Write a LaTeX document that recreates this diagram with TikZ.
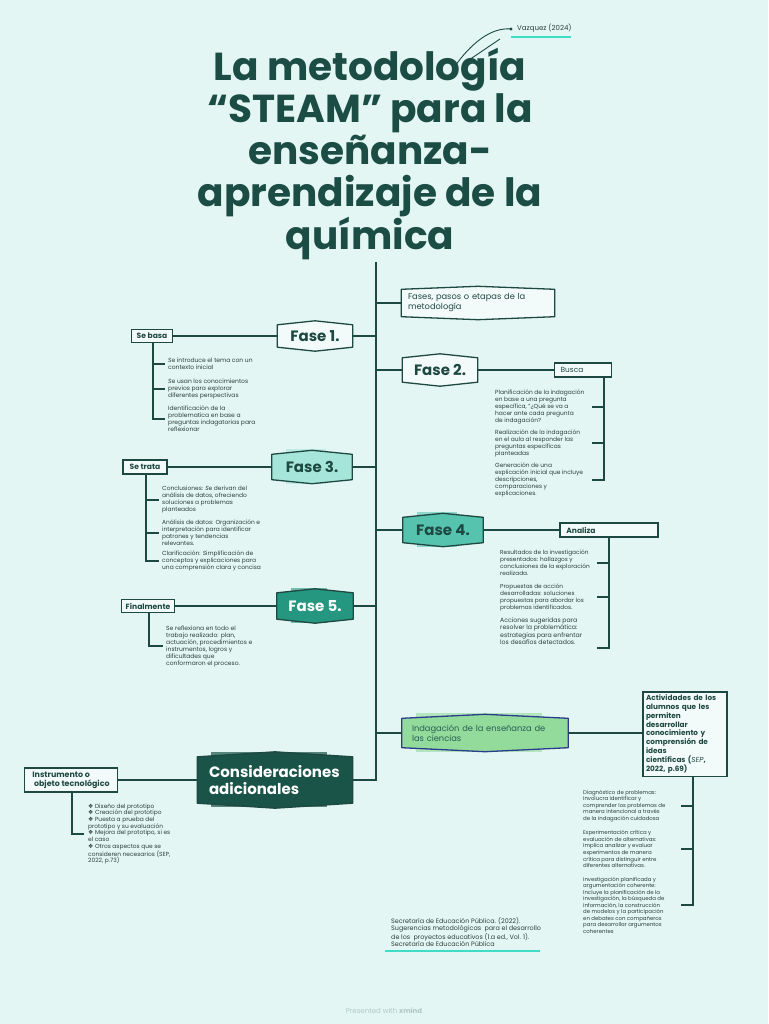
\documentclass[tikz,border=0pt]{standalone}
\usepackage{fontspec}
\setmainfont{Poppins}
\newfontfamily\djv{DejaVu Sans}
\usetikzlibrary{calc}
\definecolor{bgc}{HTML}{E3F6F3}
\definecolor{lnc}{HTML}{1E4842}
\definecolor{titc}{HTML}{1C4D45}
\definecolor{txc}{HTML}{2E3C3A}
\definecolor{boxc}{HTML}{F3FBFA}
\definecolor{f3c}{HTML}{A6E6DA}
\definecolor{f4c}{HTML}{55C3AE}
\definecolor{f5c}{HTML}{25967F}
\definecolor{consc}{HTML}{1A5448}
\definecolor{cyanc}{HTML}{3FDCC6}
\definecolor{indc}{HTML}{93DB9B}
\definecolor{indb}{HTML}{2A3C8C}
\definecolor{indt}{HTML}{2B5E55}
\definecolor{grayc}{HTML}{B3C8C5}
\pgfdeclarelayer{bgl}\pgfdeclarelayer{mid}\pgfsetlayers{bgl,mid,main}
\newcommand\hexfr[3][]{\begin{pgfonlayer}{mid}\draw[lnc,line width=1.3pt,line join=round,#1] (#2.north west) -- ([yshift=#3]#2.north) -- (#2.north east) -- (#2.south east) -- ([yshift=-#3]#2.south) -- (#2.south west) -- cycle;\end{pgfonlayer}}
\newcommand\tape[2]{\begin{pgfonlayer}{mid}\fill[#1] ([xshift=14pt,yshift=5pt]#2.north west) rectangle ([xshift=-26pt,yshift=-4pt]#2.south east);\end{pgfonlayer}}
\tikzset{
  ln/.style={draw=lnc, line width=1.4pt},
  sbox/.style={draw=lnc, line width=1.2pt, fill=boxc, inner sep=2pt, font=\fontsize{7.6}{9}\selectfont\bfseries, text=lnc, align=left},
  hexn/.style={inner sep=0pt, align=center, font=\fontsize{15}{16}\selectfont\bfseries, text=lnc},
  small/.style={font=\fontsize{5.9}{7}\selectfont, text=txc, inner sep=0pt, align=left, anchor=west},
}
\begin{document}
\begin{tikzpicture}[x=1pt,y=-1pt]
\begin{pgfonlayer}{bgl}\fill[bgc] (0,0) rectangle (768,1024);\end{pgfonlayer}
\useasboundingbox (0,0) rectangle (768,1024);

% title
\node[font=\fontsize{39}{42}\selectfont\bfseries, text=titc, align=center] (title) at (370,154)
  {La metodología\\“STEAM” para la\\enseñanza-\\aprendizaje de la\\química};

% author
\node[font=\fontsize{7}{8}\selectfont, text=txc, anchor=west, inner sep=0pt] (vz) at (517,28) {Vazquez (2024)};
\coordinate (vzd) at (511,29);
\coordinate (vze1) at (455,66);
\coordinate (vzs2) at (500,39);
\coordinate (vze2) at (466,62);
\coordinate (vzl1) at (511,37);
\coordinate (vzl2) at (571,37);
\fill[lnc] (vzd) circle (1.6pt);
\draw[lnc, line width=0.9pt] (vzd) .. controls (490,27) and (470,45) .. (vze1);
\draw[lnc, line width=0.9pt] (vzs2) -- (vze2);
\draw[cyanc, line width=1.3pt] (vzl1) -- (vzl2);

% main nodes
\node[inner sep=0pt, minimum width=153pt, minimum height=27pt, align=left, text width=140pt, font=\fontsize{8.3}{10}\selectfont, text=lnc] (fp) at (478,303) {Fases, pasos o etapas de la\\metodología};
\hexfr[fill=boxc]{fp}{3pt}

\node[hexn, minimum width=75pt, minimum height=22pt] (f1) at (315,336) {Fase 1.};
\hexfr[fill=boxc]{f1}{4pt}
\node[hexn, minimum width=75pt, minimum height=24pt] (f2) at (440,370) {Fase 2.};
\hexfr[fill=boxc]{f2}{4pt}
\node[hexn, minimum width=80pt, minimum height=25pt] (f3) at (312,467) {Fase 3.};
\tape{f3c!60!bgc}{f3}
\hexfr[fill=f3c]{f3}{4pt}
\node[hexn, minimum width=80pt, minimum height=25pt] (f4) at (443,530) {Fase 4.};
\tape{f4c!60!bgc}{f4}
\hexfr[fill=f4c]{f4}{4pt}
\node[hexn, minimum width=76pt, minimum height=26pt, text=white] (f5) at (315,606) {Fase 5.};
\tape{f5c!60!bgc}{f5}
\hexfr[fill=f5c]{f5}{4pt}
\node[inner sep=0pt, minimum width=166pt, minimum height=29pt, align=left, text width=146pt, font=\fontsize{8.3}{10}\selectfont, text=indt] (ind) at (485,733) {Indagación de la enseñanza de\\las ciencias};
\tape{indc!60!bgc}{ind}
\hexfr[fill=indc, draw=indb]{ind}{4pt}
\node[inner sep=0pt, minimum width=155pt, minimum height=46pt, align=left, text width=132pt, font=\fontsize{15}{16.5}\selectfont\bfseries, text=white] (cons) at (275,780) {Consideraciones\\adicionales};
\tape{consc!70!bgc}{cons}
\hexfr[fill=consc]{cons}{5pt}

% side boxes
\node[sbox, minimum width=41pt, minimum height=13pt] (sebasa) at (152,336) {Se basa};
\node[sbox, minimum width=57pt, minimum height=14pt, font=\fontsize{7.4}{8.5}\selectfont] (busca) at (583,370) {Busca\hspace{22pt}};
\node[sbox, minimum width=44pt, minimum height=14pt] (setrata) at (145,467) {Se trata};
\node[sbox, minimum width=98pt, minimum height=14pt] (analiza) at (609,530) {Analiza\hspace{56pt}};
\node[sbox, minimum width=53pt, minimum height=13pt] (final) at (148,606) {Finalmente};
\node[sbox, minimum width=93pt, minimum height=24pt, font=\fontsize{7.9}{9}\selectfont\bfseries] (instr) at (71,780) {Instrumento o\\\ objeto tecnológico};
\node[sbox, text width=78pt, inner sep=3pt, font=\fontsize{7.3}{8.8}\selectfont\bfseries] (act) at (685,734) {Actividades de los\\alumnos que les\\permiten\\desarrollar\\conocimiento y\\comprensión de\\ideas\\científicas ({\mdseries\itshape SEP},\\2022, p.69)};

% spine
\coordinate (top) at (376,262);
\coordinate (bot) at (376,780);
\draw[ln] (top) -- (bot) -- (cons.east);
\draw[ln] (fp.west -| top) -- (fp.west);
\draw[ln] (f1.east) -- (f1.east -| top);
\draw[ln] (f2.west -| top) -- (f2.west);
\draw[ln] (f3.east) -- (f3.east -| top);
\draw[ln] (f4.west -| top) -- (f4.west);
\draw[ln] (f5.east) -- (f5.east -| top);
\draw[ln] (ind.west -| top) -- (ind.west);
\draw[ln] (ind.east) -- (act.west |- ind.east);
\draw[ln] (f1.west) -- (sebasa.east);
\draw[ln] (f2.east) -- (busca.west);
\draw[ln] (f3.west) -- (setrata.east);
\draw[ln] (f4.east) -- (analiza.west);
\draw[ln] (f5.west) -- (final.east);
\draw[ln] (cons.west) -- (instr.east);

% Fase 1 texts
\node[small, font=\fontsize{6}{7}\selectfont] (t11) at (168,364) {\textit{S}e introduce el tema con un\\contexto inicial};
\node[small, font=\fontsize{6}{7}\selectfont] (t12) at (168,389) {\textit{S}e usan los conocimientos\\previos para explorar\\diferentes perspectivas};
\node[small, font=\fontsize{6}{7}\selectfont] (t13) at (168,419) {Identificación de la\\problematica en base a\\preguntas indagatorias para\\reflexionar};
\coordinate (v1) at (153,343);
\draw[ln] (v1) -- (v1 |- t13.west) -- ([xshift=-3pt]t13.west);
\draw[ln] (v1 |- t11.west) -- ([xshift=-3pt]t11.west);
\draw[ln] (v1 |- t12.west) -- ([xshift=-3pt]t12.west);

% Fase 2 texts
\node[small] (t21) at (495,407) {Planificación de la indagación\\en base a una pregunta\\específica, "¿Qué se va a\\hacer ante cada pregunta\\de indagación?};
\node[small] (t22) at (495,443) {Realización de la indagación\\en el aula al responder las\\preguntas específicas\\planteadas};
\node[small] (t23) at (495,480) {Generación de una\\explicación inicial que incluye\\descripciones,\\comparaciones y\\explicaciones.};
\coordinate (v2) at (604,377);
\draw[ln] (v2) -- (v2 |- t23.west) -- ++(-12,0);
\draw[ln] (v2 |- t21.west) -- ++(-12,0);
\draw[ln] (v2 |- t22.west) -- ++(-12,0);

% Fase 3 texts
\node[small] (t31) at (162,500) {Conclusiones: \textit{S}e derivan del\\análisis de datos, ofreciendo\\soluciones a problemas\\planteados};
\node[small] (t32) at (162,533) {Análisis de datos: Organización e\\interpretación para identificar\\patrones y tendencias\\relevantes.};
\node[small] (t33) at (162,561) {Clarificación: \textit{S}implificación de\\conceptos y explicaciones para\\una comprensión clara y concisa};
\coordinate (v3) at (146,474);
\draw[ln] (v3) -- (v3 |- t33.west) -- ([xshift=-3pt]t33.west);
\draw[ln] (v3 |- t31.west) -- ([xshift=-3pt]t31.west);
\draw[ln] (v3 |- t32.west) -- ([xshift=-3pt]t32.west);

% Fase 4 texts
\node[small, font=\fontsize{5.8}{7}\selectfont] (t41) at (500,563) {Resultados de la investigación\\presentados: hallazgos y\\conclusiones de la exploración\\realizada.};
\node[small, font=\fontsize{5.8}{7}\selectfont] (t42) at (500,597) {Propuestas de acción\\desarrolladas: soluciones\\propuestas para abordar los\\problemas identificados.};
\node[small, font=\fontsize{6.2}{7.5}\selectfont] (t43) at (500,631) {Acciones sugeridas para\\resolver la problemática:\\estrategias para enfrentar\\los desafíos detectados.};
\coordinate (v4) at (609,537);
\coordinate (e4) at ([yshift=-3pt]t43.south);
\draw[ln] (v4) -- (v4 |- e4) -- ++(-12,0);
\draw[ln] (v4 |- t41.west) -- ++(-12,0);
\draw[ln] (v4 |- t42.west) -- ++(-12,0);

% Fase 5 text
\node[small, font=\fontsize{6}{7}\selectfont] (t51) at (166,646) {Se reflexiona en todo el\\trabajo realizado: plan,\\actuación, procedimientos e\\instrumentos, logros y\\dificultades que\\conformaron el proceso.};
\coordinate (v5) at (149,613);
\draw[ln] (v5) -- (v5 |- t51.west) -- ([xshift=-3pt]t51.west);

% Actividades texts
\node[small, font=\fontsize{5.4}{6.5}\selectfont] (t61) at (583,806) {Diagnóstico de problemas:\\Involucra identificar y\\comprender los problemas de\\manera intencional a través\\de la indagación cuidadosa};
\node[small, font=\fontsize{5.4}{6.6}\selectfont] (t62) at (583,849) {Experimentación crítica y\\evaluación de alternativas:\\Implica analizar y evaluar\\experimentos de manera\\crítica para distinguir entre\\diferentes alternativas.};
\node[small, font=\fontsize{5.4}{6.5}\selectfont] (t63) at (583,905) {Investigación planificada y\\argumentación coherente:\\Incluye la planificación de la\\investigación, la búsqueda de\\información, la construcción\\de modelos y la participación\\en debates con compañeros\\para desarrollar argumentos\\coherentes};
\coordinate (v6) at (693,776);
\draw[ln] (v6) -- (v6 |- t63.west) -- ++(-12,0);
\draw[ln] (v6 |- t61.west) -- ++(-12,0);
\draw[ln] (v6 |- t62.west) -- ++(-12,0);

% Instrumento text
\node[small, font=\fontsize{5.9}{6.7}\selectfont] (t71) at (88,834) {{\djv ❖} Diseño del prototipo\\{\djv ❖} Creación del prototipo\\{\djv ❖} Puesta a prueba del\\prototipo y su evaluación\\{\djv ❖} Mejora del prototipo, si es\\el caso\\{\djv ❖} Otros aspectos que se\\consideren necesarios (SEP,\\2022, p.73)};
\coordinate (v7) at (72,792);
\draw[ln] (v7) -- (v7 |- t71.west) -- ([xshift=-4pt]t71.west);

% reference
\node[small, anchor=north west, font=\fontsize{6.4}{7.2}\selectfont] (ref) at (391,917) {Secretaría de Educación Pública. (2022).\\Sugerencias metodológicas \ para el desarrollo\\de los \ proyectos educativos (1.a ed., Vol. 1).\\Secretaría de Educación Pública};
\coordinate (rl1) at (385,951);
\coordinate (rl2) at (540,951);
\draw[cyanc, line width=1.3pt] (rl1) -- (rl2);

% footer
\node[font=\fontsize{7}{8}\selectfont, text=grayc, inner sep=0pt] (foot) at (384,1011) {Presented with \textbf{xmind}};
\end{tikzpicture}
\end{document}
